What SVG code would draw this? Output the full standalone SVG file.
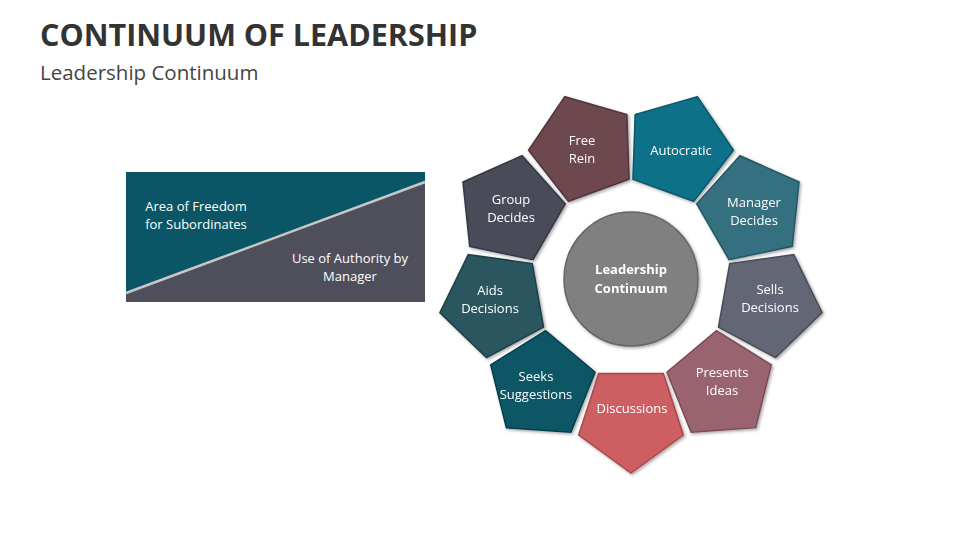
<svg xmlns="http://www.w3.org/2000/svg" width="960" height="540" viewBox="0 0 960 540">
<defs>
<style>
.t{font-family:"Open Sans","Liberation Sans",sans-serif;fill:#fff;font-size:13px;text-anchor:middle}
.p{stroke-width:1.5}
</style>
<filter id="sh" x="-20%" y="-20%" width="140%" height="140%"><feDropShadow dx="1.5" dy="1.5" stdDeviation="1.5" flood-opacity="0.35"/></filter>
<polygon id="pg" points="0,55 52.3,17 32.3,-44.5 -32.3,-44.5 -52.3,17"/>
</defs>
<rect width="960" height="540" fill="#fff"/>
<text x="40" y="46" font-family="'Open Sans','Liberation Sans',sans-serif" font-weight="bold" font-size="30.5" fill="#333">CONTINUUM OF LEADERSHIP</text>
<text x="40" y="80" font-family="'Open Sans','Liberation Sans',sans-serif" font-size="20.5" fill="#444">Leadership Continuum</text>
<g id="freedom-box">
<rect x="126" y="172" width="299" height="130" fill="#4f4f5b"/>
<polygon points="126,172 425,172 425,182 126,293" fill="#0a5666"/>
<line x1="126" y1="293" x2="425" y2="182" stroke="#c8c8c8" stroke-width="2.5"/>
<text class="t" x="196" y="211">Area of Freedom</text>
<text class="t" x="196" y="229">for Subordinates</text>
<text class="t" x="350" y="263">Use of Authority by</text>
<text class="t" x="350" y="281">Manager</text>
</g>
<g id="connectors"></g>
<g filter="url(#sh)">
<g id="discussions"><use href="#pg" transform="translate(631,418)" fill="#cd5e62" stroke="#a8474b" class="p"/><text class="t" x="632" y="413">Discussions</text></g>
<g id="seeks"><use href="#pg" transform="translate(541.7,385.5) rotate(40)" fill="#0a5666" stroke="#06404c" class="p"/><text class="t" x="536" y="381">Seeks</text><text class="t" x="536" y="399">Suggestions</text></g>
<g id="aids"><use href="#pg" transform="translate(494.1,303.1) rotate(80)" fill="#2c5660" stroke="#1e3f47" class="p"/><text class="t" x="490" y="295">Aids</text><text class="t" x="490" y="313">Decisions</text></g>
<g id="group"><use href="#pg" transform="translate(510.6,209.5) rotate(120)" fill="#4a4c58" stroke="#353743" class="p"/><text class="t" x="511" y="204">Group</text><text class="t" x="511" y="222">Decides</text></g>
<g id="free"><use href="#pg" transform="translate(583.5,148.4) rotate(160)" fill="#6d4850" stroke="#52343b" class="p"/><text class="t" x="582" y="145">Free</text><text class="t" x="582" y="163">Rein</text></g>
<g id="autocratic"><use href="#pg" transform="translate(678.5,148.4) rotate(200)" fill="#0e7189" stroke="#0a566a" class="p"/><text class="t" x="681" y="155">Autocratic</text></g>
<g id="manager"><use href="#pg" transform="translate(751.4,209.5) rotate(240)" fill="#356f80" stroke="#265563" class="p"/><text class="t" x="754" y="207">Manager</text><text class="t" x="754" y="225">Decides</text></g>
<g id="sells"><use href="#pg" transform="translate(767.9,303.1) rotate(280)" fill="#636675" stroke="#4a4c59" class="p"/><text class="t" x="770" y="294">Sells</text><text class="t" x="770" y="312">Decisions</text></g>
<g id="presents"><use href="#pg" transform="translate(720.3,385.5) rotate(320)" fill="#9a6470" stroke="#7a4b56" class="p"/><text class="t" x="722" y="377">Presents</text><text class="t" x="722" y="395">Ideas</text></g>
<g id="center"><circle cx="631" cy="279" r="67" fill="#808080" stroke="#666" stroke-width="1.5"/><text class="t" x="631" y="274" font-weight="bold" font-size="14.5">Leadership</text><text class="t" x="631" y="293" font-weight="bold" font-size="14.5">Continuum</text></g>
</g>
</svg>
